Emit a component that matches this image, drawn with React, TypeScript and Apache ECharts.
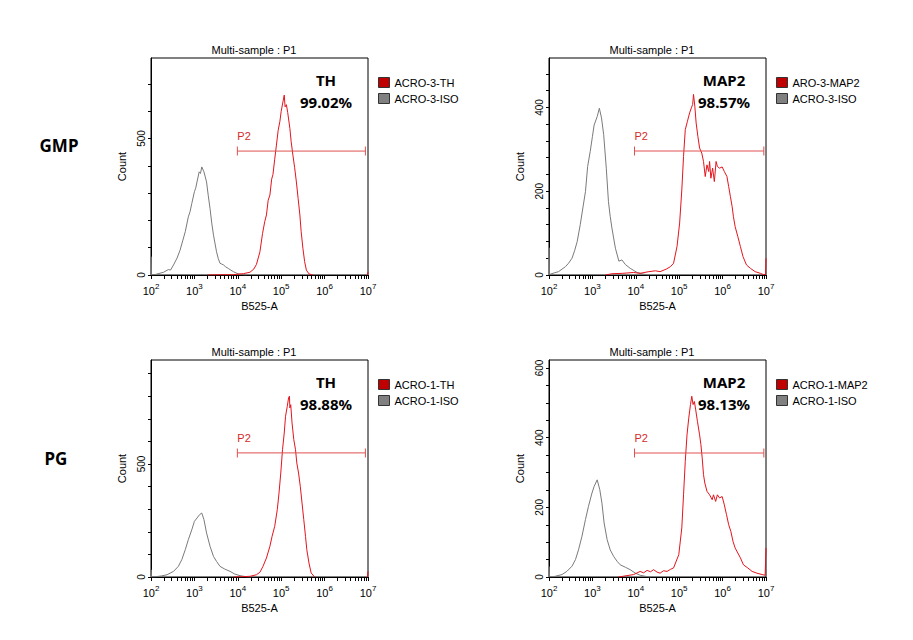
import React, { useEffect, useRef } from "react";
import * as echarts from "echarts";

// x = log10(B525-A), y = Count
const gmpThIso: (number | string)[][] = [[2.0,0],[2.0,67],[2.01,1],[2.10,2],[2.29,10],[2.40,20],[2.45,18],[2.52,37],[2.60,62],[2.67,91],[2.73,125],[2.79,159],[2.86,213],[2.90,232],[2.94,262],[3.00,305],[3.03,318],[3.06,341],[3.11,378],[3.14,372],[3.17,396],[3.20,385],[3.22,378],[3.28,341],[3.32,290],[3.36,244],[3.40,190],[3.44,146],[3.51,85],[3.55,60],[3.59,43],[3.63,40],[3.67,37],[3.72,30],[3.78,24],[3.84,18],[3.90,12],[4.01,4],[4.2,0]];
const gmpTh: (number | string)[][] = [[3.3,0],[3.6,1],[3.9,1],[4.13,5],[4.28,10],[4.37,22],[4.43,39],[4.51,85],[4.57,152],[4.62,195],[4.66,220],[4.70,274],[4.74,293],[4.78,351],[4.81,368],[4.85,424],[4.89,476],[4.93,530],[4.97,563],[5.00,600],[5.04,634],[5.07,659],[5.09,616],[5.12,624],[5.15,595],[5.20,537],[5.23,488],[5.27,439],[5.31,393],[5.35,341],[5.39,280],[5.43,220],[5.46,159],[5.50,98],[5.54,49],[5.58,18],[5.64,4],[5.73,0],[6.5,"-"],[6.99,0],[7.0,12]];

const gmpMapIso: (number | string)[][] = [[2.0,0],[2.0,65],[2.01,1],[2.03,2],[2.12,5],[2.22,8],[2.30,14],[2.38,20],[2.45,28],[2.53,40],[2.59,58],[2.65,80],[2.72,120],[2.78,160],[2.84,199],[2.89,259],[2.95,295],[3.00,330],[3.04,358],[3.11,378],[3.16,398],[3.21,375],[3.26,335],[3.32,255],[3.37,175],[3.41,140],[3.45,112],[3.53,64],[3.61,33],[3.68,36],[3.76,25],[3.87,16],[4.03,6],[4.18,2],[4.3,0]];
const gmpMap: (number | string)[][] = [[3.3,0],[3.45,3],[3.7,4],[3.95,6],[4.1,4],[4.3,8],[4.45,10],[4.56,8],[4.70,14],[4.80,20],[4.87,28],[4.95,68],[5.01,124],[5.06,203],[5.10,283],[5.14,347],[5.19,367],[5.24,387],[5.28,399],[5.31,407],[5.33,431],[5.36,403],[5.39,363],[5.43,331],[5.47,303],[5.52,291],[5.56,271],[5.60,235],[5.64,263],[5.68,247],[5.70,271],[5.73,231],[5.77,255],[5.81,223],[5.85,271],[5.88,259],[5.93,255],[5.99,258],[6.04,247],[6.10,235],[6.14,211],[6.18,187],[6.22,163],[6.25,139],[6.29,115],[6.35,92],[6.41,68],[6.47,44],[6.55,24],[6.64,16],[6.75,8],[6.87,4],[6.94,1],[6.99,1],[7.0,40]];

const pgThIso: (number | string)[][] = [[2.0,0],[2.0,32],[2.01,1],[2.10,1],[2.25,5],[2.37,10],[2.52,25],[2.63,47],[2.71,77],[2.79,121],[2.86,165],[2.94,209],[3.00,246],[3.06,261],[3.12,276],[3.17,283],[3.22,254],[3.28,195],[3.36,136],[3.44,91],[3.51,69],[3.59,47],[3.70,35],[3.82,25],[3.93,13],[4.05,6],[4.20,1],[4.3,0]];
const pgTh: (number | string)[][] = [[3.9,0],[4.05,1],[4.28,3],[4.43,10],[4.51,21],[4.58,47],[4.66,84],[4.74,136],[4.79,180],[4.85,224],[4.91,298],[4.95,372],[4.99,460],[5.03,563],[5.07,637],[5.10,711],[5.14,755],[5.17,792],[5.19,800],[5.20,748],[5.22,762],[5.25,681],[5.29,608],[5.33,563],[5.36,504],[5.40,460],[5.44,401],[5.48,327],[5.52,254],[5.56,180],[5.59,121],[5.64,62],[5.69,18],[5.77,0],[6.5,"-"],[6.99,0],[7.0,25]];

const pgMapIso: (number | string)[][] = [[2.0,0],[2.0,30],[2.01,1],[2.11,1],[2.30,7],[2.41,16],[2.53,31],[2.61,50],[2.68,78],[2.76,117],[2.84,165],[2.91,203],[2.99,241],[3.04,260],[3.11,279],[3.17,251],[3.22,212],[3.27,155],[3.34,107],[3.41,78],[3.49,59],[3.57,45],[3.64,35],[3.76,28],[3.87,21],[3.99,11],[4.10,5],[4.26,1],[4.35,0]];
const pgMap: (number | string)[][] = [[3.6,0],[3.95,7],[4.10,16],[4.18,12],[4.26,19],[4.34,15],[4.41,21],[4.49,14],[4.56,11],[4.64,18],[4.72,16],[4.80,22],[4.87,26],[4.99,64],[5.06,141],[5.10,236],[5.14,332],[5.18,408],[5.22,456],[5.26,495],[5.29,519],[5.32,495],[5.35,504],[5.38,480],[5.42,447],[5.47,408],[5.50,380],[5.53,342],[5.56,294],[5.59,270],[5.64,246],[5.70,236],[5.76,222],[5.79,236],[5.84,217],[5.88,236],[5.93,227],[5.99,231],[6.04,207],[6.09,179],[6.14,150],[6.19,131],[6.24,102],[6.29,83],[6.35,69],[6.41,55],[6.48,35],[6.58,26],[6.68,16],[6.79,11],[6.91,7],[6.98,5],[7.0,83]];

// P2 gates: [start, end, level]
const gmpThGate = [3.99, 6.94, 454];
const gmpMapGate = [3.97, 6.95, 296];
const pgThGate = [3.99, 6.94, 549];
const pgMapGate = [3.97, 6.95, 356];

// y axis
const gmpThYMax = 795;
const gmpMapYMax = 518;
const pgThYMax = 960;
const pgMapYMax = 623;
const gmpThYTicks = [0, 100, 200, 300, 400, 500, 600, 700];
const gmpThYLabels = [0, 500];
const gmpMapYTicks = [0, 40, 80, 120, 160, 200, 240, 280, 320, 360, 400, 440, 480];
const gmpMapYLabels = [0, 200, 400];
const pgThYTicks = [0, 100, 200, 300, 400, 500, 600, 700, 800, 900];
const pgThYLabels = [0, 500];
const pgMapYTicks = [0, 50, 100, 150, 200, 250, 300, 350, 400, 450, 500, 550, 600];
const pgMapYLabels = [0, 200, 400, 600];

// x axis (decades)
const xDecades = [2, 3, 4, 5, 6, 7];
const xTicks: number[] = [];
for (let d = 2; d < 7; d++) for (let k = 1; k < 10; k++) xTicks.push(d + Math.log10(k));
xTicks.push(7);

const rowNames = ["GMP", "PG"];
const markers = ["TH", "MAP2", "TH", "MAP2"];
const percents = ["99.02%", "98.57%", "98.88%", "98.13%"];
const posNames = ["ACRO-3-TH", "ARO-3-MAP2", "ACRO-1-TH", "ACRO-1-MAP2"];
const isoNames = ["ACRO-3-ISO", "ACRO-3-ISO", "ACRO-1-ISO", "ACRO-1-ISO"];

const SANS = "'Liberation Sans', Arial, sans-serif";
const BOLD = "'Noto Sans', sans-serif";
const RED = "#e4141c";
const GRAY = "#7a7a7a";
const GATE = "#e05050";

export default function App() {
  const ref = useRef<HTMLDivElement>(null);
  useEffect(() => {
    if (!ref.current) return;
    const chart = echarts.init(ref.current, null, { renderer: "svg" });
    const panels = [
      { left: 151, top: 58, iso: gmpThIso, pos: gmpTh, gate: gmpThGate, yMax: gmpThYMax, yTicks: gmpThYTicks, yLabels: gmpThYLabels },
      { left: 549, top: 58, iso: gmpMapIso, pos: gmpMap, gate: gmpMapGate, yMax: gmpMapYMax, yTicks: gmpMapYTicks, yLabels: gmpMapYLabels },
      { left: 151, top: 360, iso: pgThIso, pos: pgTh, gate: pgThGate, yMax: pgThYMax, yTicks: pgThYTicks, yLabels: pgThYLabels },
      { left: 549, top: 360, iso: pgMapIso, pos: pgMap, gate: pgMapGate, yMax: pgMapYMax, yTicks: pgMapYTicks, yLabels: pgMapYLabels },
    ];
    const W = 217, H = 217;
    const grid: any[] = [], xAxis: any[] = [], yAxis: any[] = [], series: any[] = [], legend: any[] = [], graphic: any[] = [];
    panels.forEach((p, i) => {
      grid.push({ left: p.left, top: p.top, width: W, height: H, show: true, borderColor: "#000", borderWidth: 1, backgroundColor: "transparent" });
      xAxis.push({
        gridIndex: i, type: "value", min: xDecades[0], max: xDecades[xDecades.length - 1], interval: 1,
        axisLine: { show: true, onZero: false, lineStyle: { color: "#000", width: 1 } },
        axisTick: { show: true, length: 4, customValues: xTicks, lineStyle: { color: "#000" } },
        axisLabel: {
          margin: 7,
          formatter: (v: number) => `{a|10}{b|${v}}`,
          rich: {
            a: { fontSize: 11, fontFamily: SANS, color: "#000", lineHeight: 14, verticalAlign: "bottom" },
            b: { fontSize: 8, fontFamily: SANS, color: "#000", lineHeight: 6, verticalAlign: "top" },
          },
        },
        splitLine: { show: false },
        name: "B525-A", nameLocation: "middle", nameGap: 25,
        nameTextStyle: { fontSize: 11, color: "#000", fontFamily: SANS },
      });
      yAxis.push({
        gridIndex: i, type: "value", min: 0, max: p.yMax,
        axisLine: { show: true, lineStyle: { color: "#000", width: 1 } },
        axisTick: { show: true, length: 3, customValues: p.yTicks, lineStyle: { color: "#000" } },
        axisLabel: { customValues: p.yLabels, rotate: 90, fontSize: 10, color: "#000", fontFamily: SANS, margin: 5 },
        splitLine: { show: false },
        name: "Count", nameLocation: "middle", nameGap: 24, nameRotate: 90,
        nameTextStyle: { fontSize: 11, color: "#000", fontFamily: SANS },
      });
      series.push({
        type: "line", name: isoNames[i], xAxisIndex: i, yAxisIndex: i, data: p.iso,
        symbol: "none", showSymbol: false, silent: true, connectNulls: false,
        lineStyle: { color: GRAY, width: 1 }, itemStyle: { color: "#808080" }, z: 2,
      });
      series.push({
        type: "line", name: posNames[i], xAxisIndex: i, yAxisIndex: i, data: p.pos,
        symbol: "none", showSymbol: false, silent: true, connectNulls: false,
        lineStyle: { color: RED, width: 1 }, itemStyle: { color: "#c00000" }, z: 3,
      });
      series.push({
        type: "line", xAxisIndex: i, yAxisIndex: i, silent: true, z: 4,
        data: [
          { value: [p.gate[0], p.gate[2]], label: { show: true, formatter: "P2", position: "top", align: "left", distance: 5, color: "#d42a2a", fontSize: 11, fontFamily: SANS } },
          { value: [p.gate[1], p.gate[2]] },
        ],
        symbol: "rect", symbolSize: [1, 9], showSymbol: true,
        itemStyle: { color: GATE }, lineStyle: { color: GATE, width: 1 },
      });
      legend.push({
        left: p.left + 227, top: p.top + 19, orient: "vertical", icon: "rect", padding: 0,
        itemWidth: 11, itemHeight: 10, itemGap: 5, selectedMode: false,
        textStyle: { fontSize: 11, lineHeight: 10, color: "#000", fontFamily: SANS },
        itemStyle: { borderColor: "#333", borderWidth: 1 },
        data: [
          { name: posNames[i], itemStyle: { color: "#c00000", borderColor: "#333", borderWidth: 1 } },
          { name: isoNames[i], itemStyle: { color: "#808080", borderColor: "#333", borderWidth: 1 } },
        ],
      });
      graphic.push({ type: "text", x: p.left + 103, y: p.top - 8, silent: true,
        style: { text: "Multi-sample : P1", fontSize: 11, fontFamily: SANS, fill: "#000", align: "center", verticalAlign: "middle" } });
      graphic.push({ type: "text", x: p.left + 175, y: p.top + 22, silent: true,
        style: { text: markers[i], fontSize: 15, fontWeight: "bold", fontFamily: BOLD, fill: "#000", align: "center", verticalAlign: "middle" } });
      graphic.push({ type: "text", x: p.left + 175, y: p.top + 44, silent: true,
        style: { text: percents[i], fontSize: 15, fontWeight: "bold", fontFamily: BOLD, fill: "#000", align: "center", verticalAlign: "middle" } });
    });
    graphic.push({ type: "text", x: 59, y: 145, silent: true,
      style: { text: rowNames[0], fontSize: 17, fontWeight: "bold", fontFamily: BOLD, fill: "#000", align: "center", verticalAlign: "middle" } });
    graphic.push({ type: "text", x: 56, y: 458, silent: true,
      style: { text: rowNames[1], fontSize: 17, fontWeight: "bold", fontFamily: BOLD, fill: "#000", align: "center", verticalAlign: "middle" } });

    chart.setOption({
      animation: false,
      backgroundColor: "#fff",
      textStyle: { fontFamily: SANS },
      grid, xAxis, yAxis, series, legend, graphic,
    });
    return () => chart.dispose();
  }, []);
  return <div ref={ref} style={{ position: "absolute", left: 0, top: 0, width: 913, height: 640, background: "#fff" }} />;
}
